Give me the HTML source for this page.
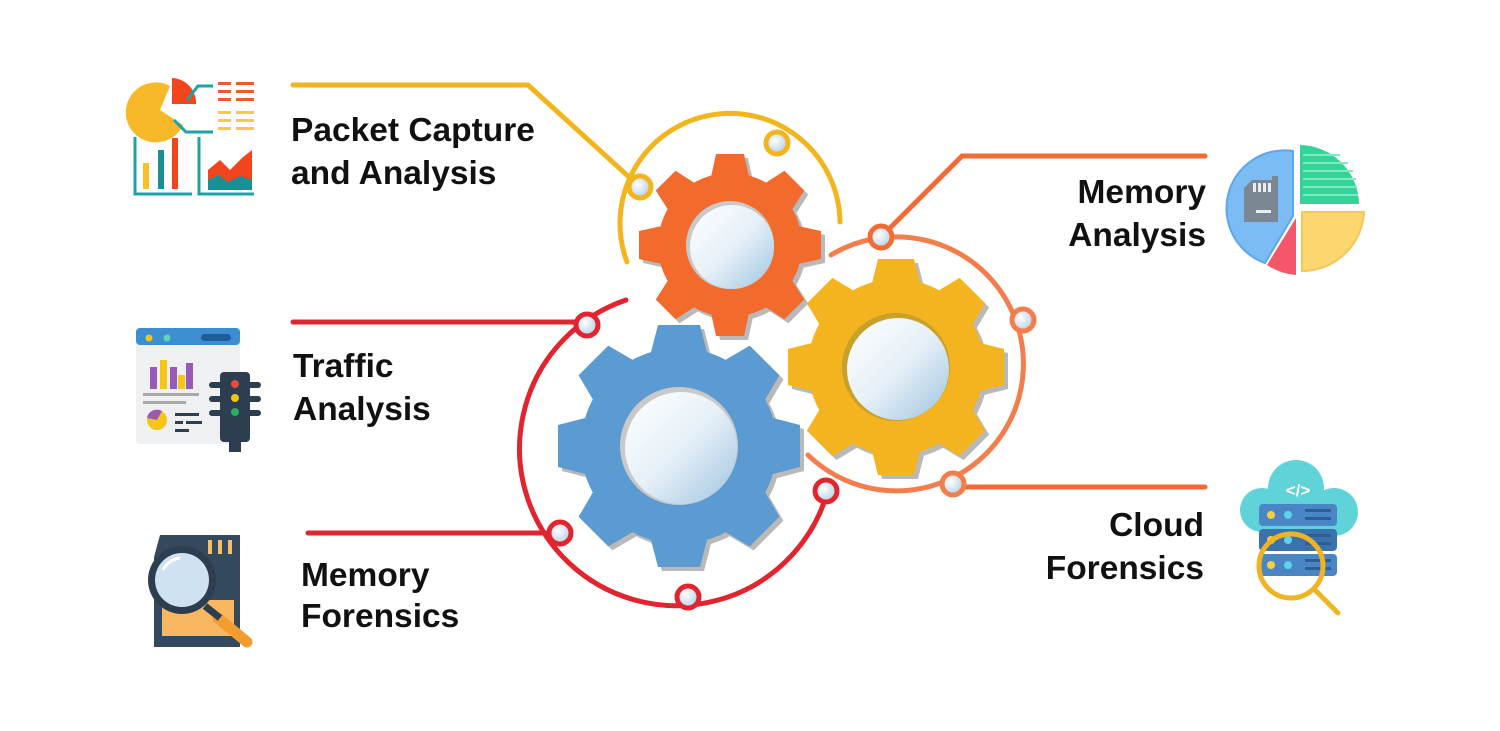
<!DOCTYPE html>
<html><head><meta charset="utf-8">
<style>
html,body{margin:0;padding:0;background:#fff;}
svg{display:block;}
text{font-family:"Liberation Sans",Arial,sans-serif;font-weight:bold;font-size:33.5px;fill:#111;}
</style></head>
<body>
<svg width="1500" height="731" viewBox="0 0 1500 731" xmlns="http://www.w3.org/2000/svg">
<defs>
  <linearGradient id="hole" x1="0" y1="0" x2="1" y2="1">
    <stop offset="0" stop-color="#ffffff"/><stop offset="0.5" stop-color="#e6f0f7"/><stop offset="1" stop-color="#9ec4e0"/>
  </linearGradient>
  <radialGradient id="nodefill" cx="0.4" cy="0.4" r="0.7">
    <stop offset="0" stop-color="#ffffff"/><stop offset="1" stop-color="#a9c9e2"/>
  </radialGradient>
  <polygon id="t8o" points="-19,-68 19,-68 14,-91 -14,-91"/>
  <polygon id="t8y" points="-24,-84 24,-84 18,-108 -18,-108"/>
  <polygon id="t8b" points="-28,-94 28,-94 21,-121 -21,-121"/>
</defs>

<!-- connector lines -->
<g fill="none" stroke-width="5" stroke-linecap="round">
  <polyline points="293,85 528,85 640,187" stroke="#f2b51d"/>
  <polyline points="1205,156 962,156 881,237" stroke="#f26b35"/>
  <line x1="953" y1="487" x2="1205" y2="487" stroke="#f26b35"/>
  <line x1="293" y1="322" x2="587" y2="322" stroke="#e2242f"/>
  <line x1="308" y1="533" x2="560" y2="533" stroke="#e2242f"/>
  <path d="M627,262 A110,110 0 1 1 840,222" stroke="#f2b51d"/>
  <path d="M831,255 A127,127 0 1 1 808,455" stroke="#f37e4c"/>
  <path d="M626,300 A157,157 0 1 0 828,490" stroke="#e2242f"/>
</g>

<!-- orange gear -->
<g transform="translate(734,249)" fill="#b9b9b9">
  <circle r="72"/>
  <use href="#t8o"/><use href="#t8o" transform="rotate(45)"/><use href="#t8o" transform="rotate(90)"/><use href="#t8o" transform="rotate(135)"/><use href="#t8o" transform="rotate(180)"/><use href="#t8o" transform="rotate(225)"/><use href="#t8o" transform="rotate(270)"/><use href="#t8o" transform="rotate(315)"/>
</g>
<g transform="translate(730,245)" fill="#f26b2c">
  <circle r="72"/>
  <use href="#t8o"/><use href="#t8o" transform="rotate(45)"/><use href="#t8o" transform="rotate(90)"/><use href="#t8o" transform="rotate(135)"/><use href="#t8o" transform="rotate(180)"/><use href="#t8o" transform="rotate(225)"/><use href="#t8o" transform="rotate(270)"/><use href="#t8o" transform="rotate(315)"/>
  <circle r="44" fill="#c9c9c9"/>
  <circle r="42" cx="2" cy="2" fill="url(#hole)"/>
</g>

<!-- yellow gear -->
<g transform="translate(900,371)" fill="#b9b9b9">
  <circle r="88"/>
  <use href="#t8y"/><use href="#t8y" transform="rotate(45)"/><use href="#t8y" transform="rotate(90)"/><use href="#t8y" transform="rotate(135)"/><use href="#t8y" transform="rotate(180)"/><use href="#t8y" transform="rotate(225)"/><use href="#t8y" transform="rotate(270)"/><use href="#t8y" transform="rotate(315)"/>
</g>
<g transform="translate(896,367)" fill="#f3b41f">
  <circle r="88"/>
  <use href="#t8y"/><use href="#t8y" transform="rotate(45)"/><use href="#t8y" transform="rotate(90)"/><use href="#t8y" transform="rotate(135)"/><use href="#t8y" transform="rotate(180)"/><use href="#t8y" transform="rotate(225)"/><use href="#t8y" transform="rotate(270)"/><use href="#t8y" transform="rotate(315)"/>
  <circle r="54" fill="#c9a02a"/>
  <circle r="51" cx="2" cy="2" fill="url(#hole)"/>
</g>

<!-- blue gear -->
<g transform="translate(683,450)" fill="#b9b9b9">
  <circle r="98"/>
  <use href="#t8b"/><use href="#t8b" transform="rotate(45)"/><use href="#t8b" transform="rotate(90)"/><use href="#t8b" transform="rotate(135)"/><use href="#t8b" transform="rotate(180)"/><use href="#t8b" transform="rotate(225)"/><use href="#t8b" transform="rotate(270)"/><use href="#t8b" transform="rotate(315)"/>
</g>
<g transform="translate(679,446)" fill="#5b9bd2">
  <circle r="98"/>
  <use href="#t8b"/><use href="#t8b" transform="rotate(45)"/><use href="#t8b" transform="rotate(90)"/><use href="#t8b" transform="rotate(135)"/><use href="#t8b" transform="rotate(180)"/><use href="#t8b" transform="rotate(225)"/><use href="#t8b" transform="rotate(270)"/><use href="#t8b" transform="rotate(315)"/>
  <circle r="59" fill="#c9c9c9"/>
  <circle r="56" cx="2" cy="2" fill="url(#hole)"/>
</g>

<!-- nodes -->
<g stroke-width="5" fill="url(#nodefill)">
  <circle cx="640" cy="187" r="11" stroke="#f2b51d"/>
  <circle cx="777" cy="143" r="11" stroke="#f2b51d"/>
  <circle cx="881" cy="237" r="11" stroke="#f26b35"/>
  <circle cx="1023" cy="320" r="11" stroke="#f37e4c"/>
  <circle cx="953" cy="484" r="11" stroke="#f37e4c"/>
  <circle cx="587" cy="325" r="11" stroke="#e2242f"/>
  <circle cx="560" cy="533" r="11" stroke="#e2242f"/>
  <circle cx="688" cy="597" r="11" stroke="#e2242f"/>
  <circle cx="826" cy="491" r="11" stroke="#e2242f"/>
</g>

<!-- labels -->
<text x="291" y="141">Packet Capture</text>
<text x="291" y="184">and Analysis</text>
<text x="1206" y="203" text-anchor="end">Memory</text>
<text x="1206" y="246" text-anchor="end">Analysis</text>
<text x="293" y="377">Traffic</text>
<text x="293" y="420">Analysis</text>
<text x="301" y="586">Memory</text>
<text x="301" y="627">Forensics</text>
<text x="1204" y="536" text-anchor="end">Cloud</text>
<text x="1204" y="579" text-anchor="end">Forensics</text>

<!-- icon: packet capture -->
<g>
  <path d="M170,86 A30,30 0 1 0 183,125 L160,110 Z" fill="#f7b829"/>
  <path d="M172,78 L172,104 L196,104 A25,25 0 0 0 172,78 Z" fill="#f2441d"/>
  <polyline points="187,100 198,86 213,86" fill="none" stroke="#1ba3a8" stroke-width="3"/>
  <polyline points="174,120 186,132 213,132" fill="none" stroke="#1ba3a8" stroke-width="3"/>
  <g fill="#ee5a2c"><rect x="218" y="82" width="13" height="3"/><rect x="236" y="82" width="18" height="3"/><rect x="218" y="90" width="13" height="3"/><rect x="236" y="90" width="18" height="3"/><rect x="218" y="98" width="13" height="3"/><rect x="236" y="98" width="18" height="3"/></g>
  <g fill="#f8c84a"><rect x="218" y="111" width="13" height="3"/><rect x="236" y="111" width="18" height="3"/><rect x="218" y="119" width="13" height="3"/><rect x="236" y="119" width="18" height="3"/><rect x="218" y="127" width="13" height="3"/><rect x="236" y="127" width="18" height="3"/></g>
  <polyline points="135,137 135,194 192,194" fill="none" stroke="#1ba3a8" stroke-width="3"/>
  <rect x="143" y="163" width="6" height="26" fill="#f8c029"/>
  <rect x="158" y="150" width="6" height="39" fill="#1a8f94"/>
  <rect x="172" y="138" width="6" height="51" fill="#f2441d"/>
  <polyline points="199,137 199,194 254,194" fill="none" stroke="#1ba3a8" stroke-width="3"/>
  <path d="M208,190 L208,170 L220,160 L230,170 L242,158 L252,150 L252,190 Z" fill="#f2441d"/>
  <path d="M208,190 L208,180 L218,175 L228,182 L240,176 L252,180 L252,190 Z" fill="#1a8f94"/>
</g>

<!-- icon: traffic -->
<g>
  <rect x="136" y="328" width="104" height="116" rx="4" fill="#eef0f2"/>
  <rect x="136" y="328" width="104" height="17" rx="4" fill="#3b8fd0"/>
  <circle cx="149" cy="338" r="3.5" fill="#f5c518"/><circle cx="167" cy="338" r="3.5" fill="#5ed5b9"/>
  <rect x="201" y="334" width="30" height="7" rx="3.5" fill="#1e5c9a"/>
  <rect x="150" y="367" width="7" height="22" fill="#9b59b6"/><rect x="160" y="360" width="7" height="29" fill="#f5c518"/><rect x="170" y="367" width="7" height="22" fill="#9b59b6"/><rect x="178" y="375" width="7" height="14" fill="#f5c518"/><rect x="186" y="363" width="7" height="26" fill="#9b59b6"/>
  <rect x="143" y="393" width="56" height="3" fill="#aaa"/><rect x="143" y="401" width="43" height="3" fill="#aaa"/>
  <circle cx="157" cy="420" r="10" fill="#f5c518"/><path d="M157,420 L147,418 A10,10 0 0 1 162,411 Z" fill="#9b59b6"/>
  <rect x="175" y="413" width="24" height="3" fill="#2c3e50"/><rect x="175" y="421" width="8" height="3" fill="#2c3e50"/><rect x="186" y="421" width="16" height="3" fill="#2c3e50"/><rect x="175" y="429" width="14" height="3" fill="#2c3e50"/>
  <rect x="220" y="372" width="30" height="70" rx="4" fill="#2c3e50"/>
  <rect x="229" y="430" width="12" height="22" fill="#2c3e50"/>
  <rect x="209" y="382" width="52" height="6" rx="3" fill="#2c3e50"/><rect x="209" y="396" width="52" height="6" rx="3" fill="#2c3e50"/><rect x="209" y="410" width="52" height="6" rx="3" fill="#2c3e50"/>
  <circle cx="235" cy="384" r="4" fill="#e74c3c"/><circle cx="235" cy="398" r="4" fill="#f1c40f"/><circle cx="235" cy="412" r="4" fill="#27ae60"/>
</g>

<!-- icon: memory forensics -->
<g>
  <path d="M160,535 h80 v112 h-86 v-90 z" fill="#34495e"/>
  <rect x="208" y="540" width="4" height="14" fill="#f5c065"/><rect x="218" y="540" width="4" height="14" fill="#f5c065"/><rect x="228" y="540" width="4" height="14" fill="#f5c065"/>
  <rect x="162" y="600" width="72" height="36" fill="#f9b761"/>
  <line x1="218" y1="618" x2="247" y2="642" stroke="#f39c2f" stroke-width="11" stroke-linecap="round"/>
  <line x1="205" y1="606" x2="220" y2="618" stroke="#2c3e50" stroke-width="7"/>
  <circle cx="182" cy="580" r="34" fill="#2c3e50"/>
  <circle cx="182" cy="580" r="27" fill="#cfe2f2"/>
  <path d="M163,570 A22,22 0 0 1 180,558" fill="none" stroke="#fff" stroke-width="3"/>
</g>

<!-- icon: memory analysis pie -->
<g>
  <path d="M1293,151 L1293,216 L1265,263 A58,58 0 0 1 1293,151 Z" fill="#7cbcf5" stroke="#5ea6ec" stroke-width="2"/>
  <path d="M1300,145 A60,60 0 0 1 1359,204 L1300,204 Z" fill="#34d399"/>
  <g stroke="#7eecc0" stroke-width="2"><line x1="1303" y1="155" x2="1340" y2="155"/><line x1="1303" y1="163" x2="1348" y2="163"/><line x1="1303" y1="171" x2="1353" y2="171"/><line x1="1303" y1="179" x2="1356" y2="179"/><line x1="1303" y1="187" x2="1357" y2="187"/><line x1="1303" y1="195" x2="1358" y2="195"/></g>
  <path d="M1302,212 L1364,212 A62,62 0 0 1 1302,271 Z" fill="#fcd770" stroke="#f6c658" stroke-width="2"/>
  <path d="M1296,218 L1296,275 A60,60 0 0 1 1267,265 Z" fill="#f5566a"/>
  <path d="M1252,180 h20 v-4 h6 v46 h-34 v-34 z" fill="#7b8793"/>
  <g fill="#e8edf2"><rect x="1253" y="183" width="3" height="9"/><rect x="1258" y="183" width="3" height="9"/><rect x="1263" y="183" width="3" height="9"/><rect x="1268" y="183" width="3" height="9"/><rect x="1256" y="210" width="15" height="3"/></g>
</g>

<!-- icon: cloud forensics -->
<g>
  <circle cx="1296" cy="488" r="28" fill="#5fd3d8"/>
  <circle cx="1262" cy="510" r="22" fill="#5fd3d8"/>
  <circle cx="1334" cy="512" r="24" fill="#5fd3d8"/>
  <rect x="1262" y="500" width="72" height="34" fill="#5fd3d8"/>
  <text x="1298" y="496" text-anchor="middle" style="font-size:17px;fill:#fff">&lt;/&gt;</text>
  <rect x="1259" y="504" width="78" height="22" rx="4" fill="#4a86c6"/>
  <rect x="1259" y="529" width="78" height="22" rx="4" fill="#3a72ad"/>
  <rect x="1259" y="554" width="78" height="22" rx="4" fill="#4a86c6"/>
  <g fill="#f5d03b"><circle cx="1271" cy="515" r="4"/><circle cx="1271" cy="540" r="4"/><circle cx="1271" cy="565" r="4"/></g>
  <g fill="#5fd3e8"><circle cx="1288" cy="515" r="4"/><circle cx="1288" cy="540" r="4"/><circle cx="1288" cy="565" r="4"/></g>
  <g fill="#2d5f94"><rect x="1305" y="509" width="26" height="3"/><rect x="1305" y="517" width="26" height="3"/><rect x="1305" y="534" width="26" height="3"/><rect x="1305" y="542" width="26" height="3"/><rect x="1305" y="559" width="26" height="3"/><rect x="1305" y="567" width="26" height="3"/></g>
  <circle cx="1291" cy="566" r="32" fill="none" stroke="#f0b323" stroke-width="5"/>
  <line x1="1314" y1="589" x2="1338" y2="613" stroke="#f0b323" stroke-width="5" stroke-linecap="round"/>
</g>
</svg>
</body></html>
